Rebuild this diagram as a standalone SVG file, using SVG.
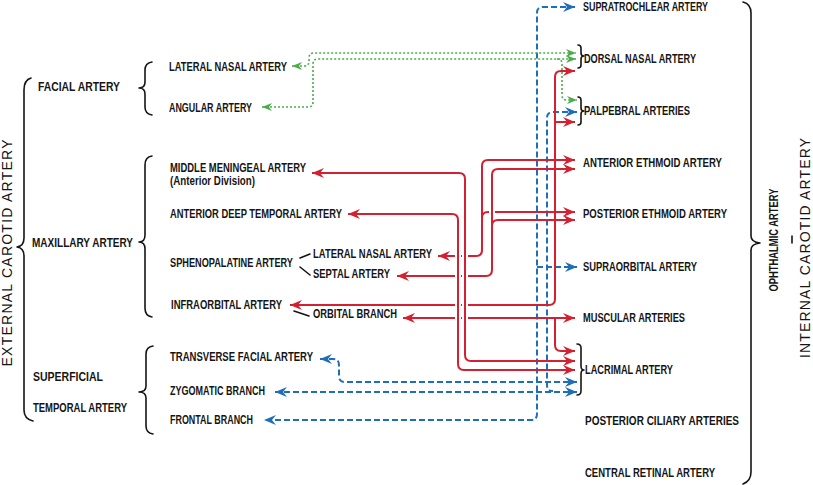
<svg xmlns="http://www.w3.org/2000/svg" width="813" height="485" viewBox="0 0 813 485">
<style>
.t{font-family:"Liberation Sans",Arial,sans-serif;font-weight:bold;font-size:12px;fill:#151515}
.v{font-family:"Liberation Sans",Arial,sans-serif;font-size:14px;fill:#151515}
.br{fill:none;stroke:#151515;stroke-width:1.6;stroke-linecap:round;stroke-linejoin:round}
.r{fill:none;stroke:#d42030;stroke-width:2}
.b{fill:none;stroke:#1f6fb8;stroke-width:2;stroke-dasharray:6 3}
.g{fill:none;stroke:#48ad4a;stroke-width:1.6;stroke-dasharray:2 2}
.w{fill:none;stroke:#ffffff;stroke-width:6}
</style>
<defs>
<marker id="mr" viewBox="0 0 12 10" refX="12" refY="5" markerWidth="12" markerHeight="10" orient="auto-start-reverse" markerUnits="userSpaceOnUse"><path d="M0,0 L12,5 L0,10 L4,5 z" fill="#d42030"/></marker>
<marker id="mb" viewBox="0 0 12 10" refX="12" refY="5" markerWidth="12" markerHeight="10" orient="auto-start-reverse" markerUnits="userSpaceOnUse"><path d="M0,0 L12,5 L0,10 L4,5 z" fill="#1f6fb8"/></marker>
<marker id="mg" viewBox="0 0 10 8" refX="10" refY="4" markerWidth="10" markerHeight="8" orient="auto-start-reverse" markerUnits="userSpaceOnUse"><path d="M0,0 L10,4 L0,8 L3,4 z" fill="#48ad4a"/></marker>
</defs>
<rect width="813" height="485" fill="#ffffff"/>

<g id="eca">
<path class="br" d="M31,78 Q24,80 24,90 V238 Q24,246 17,247 Q24,248 24,256 V410 Q24,419 33,421"/>
<text class="v" transform="translate(12,253) rotate(-90)" text-anchor="middle" textLength="227" lengthAdjust="spacing">EXTERNAL   CAROTID   ARTERY</text>
</g>

<g id="facial">
<text class="t" x="38" y="91" textLength="82" lengthAdjust="spacingAndGlyphs">FACIAL ARTERY</text>
<path class="br" d="M152,62 Q145,63 145,70 V82 Q145,88 139,88 Q145,88 145,94 V107 Q145,114 152,115"/>
</g>
<g id="lateral-nasal-facial"><text class="t" x="169" y="71" textLength="118" lengthAdjust="spacingAndGlyphs">LATERAL NASAL ARTERY</text></g>
<g id="angular"><text class="t" x="169" y="112" textLength="83" lengthAdjust="spacingAndGlyphs">ANGULAR ARTERY</text></g>

<g id="maxillary">
<text class="t" x="32" y="247" textLength="101" lengthAdjust="spacingAndGlyphs">MAXILLARY ARTERY</text>
<path class="br" d="M152,156 Q145,157 145,165 V235 Q145,242 139,242 Q145,242 145,249 V308 Q145,316 152,317"/>
</g>
<g id="middle-meningeal">
<text class="t" x="170" y="171.5" font-size="10" textLength="136" lengthAdjust="spacingAndGlyphs">MIDDLE MENINGEAL ARTERY</text>
<text class="t" x="170" y="185" font-size="9.5" textLength="85" lengthAdjust="spacingAndGlyphs">(Anterior Division)</text>
</g>
<g id="anterior-deep-temporal"><text class="t" x="170" y="218" textLength="172" lengthAdjust="spacingAndGlyphs">ANTERIOR DEEP TEMPORAL ARTERY</text></g>
<g id="sphenopalatine">
<text class="t" x="170" y="267" textLength="123" lengthAdjust="spacingAndGlyphs">SPHENOPALATINE ARTERY</text>
<path class="br" d="M300,258 L310,254 M300,267 L310,275"/>
</g>
<g id="lateral-nasal-spheno"><text class="t" x="313" y="258" textLength="119" lengthAdjust="spacingAndGlyphs">LATERAL NASAL ARTERY</text></g>
<g id="septal"><text class="t" x="313" y="278" textLength="77" lengthAdjust="spacingAndGlyphs">SEPTAL ARTERY</text></g>
<g id="infraorbital">
<text class="t" x="171" y="309" textLength="111" lengthAdjust="spacingAndGlyphs">INFRAORBITAL ARTERY</text>
<path class="br" d="M294,311 L309,316"/>
</g>
<g id="orbital-branch"><text class="t" x="313" y="318" textLength="84" lengthAdjust="spacingAndGlyphs">ORBITAL BRANCH</text></g>

<g id="superficial-temporal">
<text class="t" x="33" y="381" textLength="70" lengthAdjust="spacingAndGlyphs">SUPERFICIAL</text>
<text class="t" x="33" y="412" textLength="94" lengthAdjust="spacingAndGlyphs">TEMPORAL ARTERY</text>
<path class="br" d="M153,346 Q146,347 146,354 V386 Q146,392 139,392 Q146,392 146,398 V426 Q146,433 153,434"/>
</g>
<g id="transverse-facial"><text class="t" x="170" y="361" textLength="143" lengthAdjust="spacingAndGlyphs">TRANSVERSE FACIAL ARTERY</text></g>
<g id="zygomatic"><text class="t" x="170" y="395" textLength="95" lengthAdjust="spacingAndGlyphs">ZYGOMATIC BRANCH</text></g>
<g id="frontal"><text class="t" x="170" y="424" textLength="83" lengthAdjust="spacingAndGlyphs">FRONTAL BRANCH</text></g>

<g id="supratrochlear"><text class="t" x="583" y="11" textLength="125" lengthAdjust="spacingAndGlyphs">SUPRATROCHLEAR ARTERY</text></g>
<g id="dorsal-nasal">
<path class="br" d="M578,45 Q581,45 581,48 V53 Q581,56 584,56 Q581,56 581,59 V65 Q581,68 578,68"/>
<text class="t" x="584" y="63" textLength="112" lengthAdjust="spacingAndGlyphs">DORSAL NASAL ARTERY</text>
</g>
<g id="palpebral">
<path class="br" d="M578,97 Q581,97 581,100 V108 Q581,111 584,111 Q581,111 581,114 V122 Q581,125 578,125"/>
<text class="t" x="584" y="115" textLength="106" lengthAdjust="spacingAndGlyphs">PALPEBRAL ARTERIES</text>
</g>
<g id="anterior-ethmoid"><text class="t" x="583" y="167" textLength="139" lengthAdjust="spacingAndGlyphs">ANTERIOR ETHMOID ARTERY</text></g>
<g id="posterior-ethmoid"><text class="t" x="583" y="218" textLength="144" lengthAdjust="spacingAndGlyphs">POSTERIOR ETHMOID ARTERY</text></g>
<g id="supraorbital"><text class="t" x="583" y="271" textLength="114" lengthAdjust="spacingAndGlyphs">SUPRAORBITAL ARTERY</text></g>
<g id="muscular"><text class="t" x="583" y="322" textLength="102" lengthAdjust="spacingAndGlyphs">MUSCULAR ARTERIES</text></g>
<g id="lacrimal">
<path class="br" d="M577,344 Q581,344 581,348 V366 Q581,370 584,370 Q581,370 581,374 V391 Q581,395 577,395"/>
<text class="t" x="585" y="374" textLength="88" lengthAdjust="spacingAndGlyphs">LACRIMAL ARTERY</text>
</g>
<g id="posterior-ciliary"><text class="t" x="585" y="425" textLength="154" lengthAdjust="spacingAndGlyphs">POSTERIOR CILIARY ARTERIES</text></g>
<g id="central-retinal"><text class="t" x="585" y="477" textLength="130" lengthAdjust="spacingAndGlyphs">CENTRAL RETINAL ARTERY</text></g>

<g id="ophthalmic-ica">
<path class="br" d="M743,2 Q751,4 751,13 V236 Q751,242 760,243 Q751,244 751,250 V472 Q751,481 743,484"/>
<text class="t" transform="translate(778,240) rotate(-90)" text-anchor="middle" font-size="11" textLength="103" lengthAdjust="spacingAndGlyphs">OPHTHALMIC ARTERY</text>
<path class="br" d="M792,236 V243"/>
<text class="v" transform="translate(810,248) rotate(-90)" text-anchor="middle" textLength="220" lengthAdjust="spacing">INTERNAL   CAROTID   ARTERY</text>
</g>

<g id="connectors">
<g id="blue">
<path class="b" marker-start="url(#mb)" marker-end="url(#mb)" d="M575,7 H543 Q537,7 537,13 V414 Q537,420 531,420 H264"/>
<path class="b" marker-end="url(#mb)" d="M537,267 H577"/>
<path class="b" marker-start="url(#mb)" marker-end="url(#mb)" d="M275,392 H577"/>
<path class="b" marker-start="url(#mb)" d="M577,112 H553 Q547,112 547,118 V385 Q547,391 553,391"/>
<path class="b" marker-start="url(#mb)" marker-end="url(#mb)" d="M320,359 H333 Q339,359 339,365 V376 Q339,382 345,382 H577"/>
</g>
<g id="green">
<path class="g" marker-start="url(#mg)" marker-end="url(#mg)" d="M292,66 H304 Q309,66 309,61 V58 Q309,53 314,53 H576"/>
<path class="g" marker-start="url(#mg)" marker-end="url(#mg)" d="M262,107 H308 Q313,107 313,102 V64 Q313,59 318,59 H576"/>
<path class="g" marker-end="url(#mg)" d="M557,59 Q562,59 562,64 V95 Q562,100 567,100 H577"/>
</g>
<g id="red">
<path class="r" marker-start="url(#mr)" marker-end="url(#mr)" d="M290,305 H549 Q555,305 555,299 V77 Q555,71 561,71 H575"/>
<path class="r" marker-end="url(#mr)" d="M555,122 H575"/>
<path class="r" marker-start="url(#mr)" marker-end="url(#mr)" d="M403,318 H575"/>
<path class="r" marker-end="url(#mr)" d="M555,318 V345 Q555,351 561,351 H575"/>
<path class="r" marker-start="url(#mr)" marker-end="url(#mr)" d="M438,256 H476 Q482,256 482,250 V166 Q482,160 488,160 H575"/>
<path class="r" marker-end="url(#mr)" d="M482,218 Q482,212 488,212 H575"/>
<path class="w" d="M492,204 V219"/>
<path class="r" marker-start="url(#mr)" marker-end="url(#mr)" d="M397,276 H486 Q492,276 492,270 V175 Q492,169 498,169 H575"/>
<path class="r" marker-end="url(#mr)" d="M492,226 Q492,220 498,220 H575"/>
<path class="w" d="M458,224 V362 M465,182 V353"/>
<path class="r" marker-start="url(#mr)" marker-end="url(#mr)" d="M312,173 H459 Q465,173 465,179 V355 Q465,361 471,361 H575"/>
<path class="r" marker-start="url(#mr)" marker-end="url(#mr)" d="M348,214 H452 Q458,214 458,220 V364 Q458,370 464,370 H575"/>
</g>
</g>
</svg>
